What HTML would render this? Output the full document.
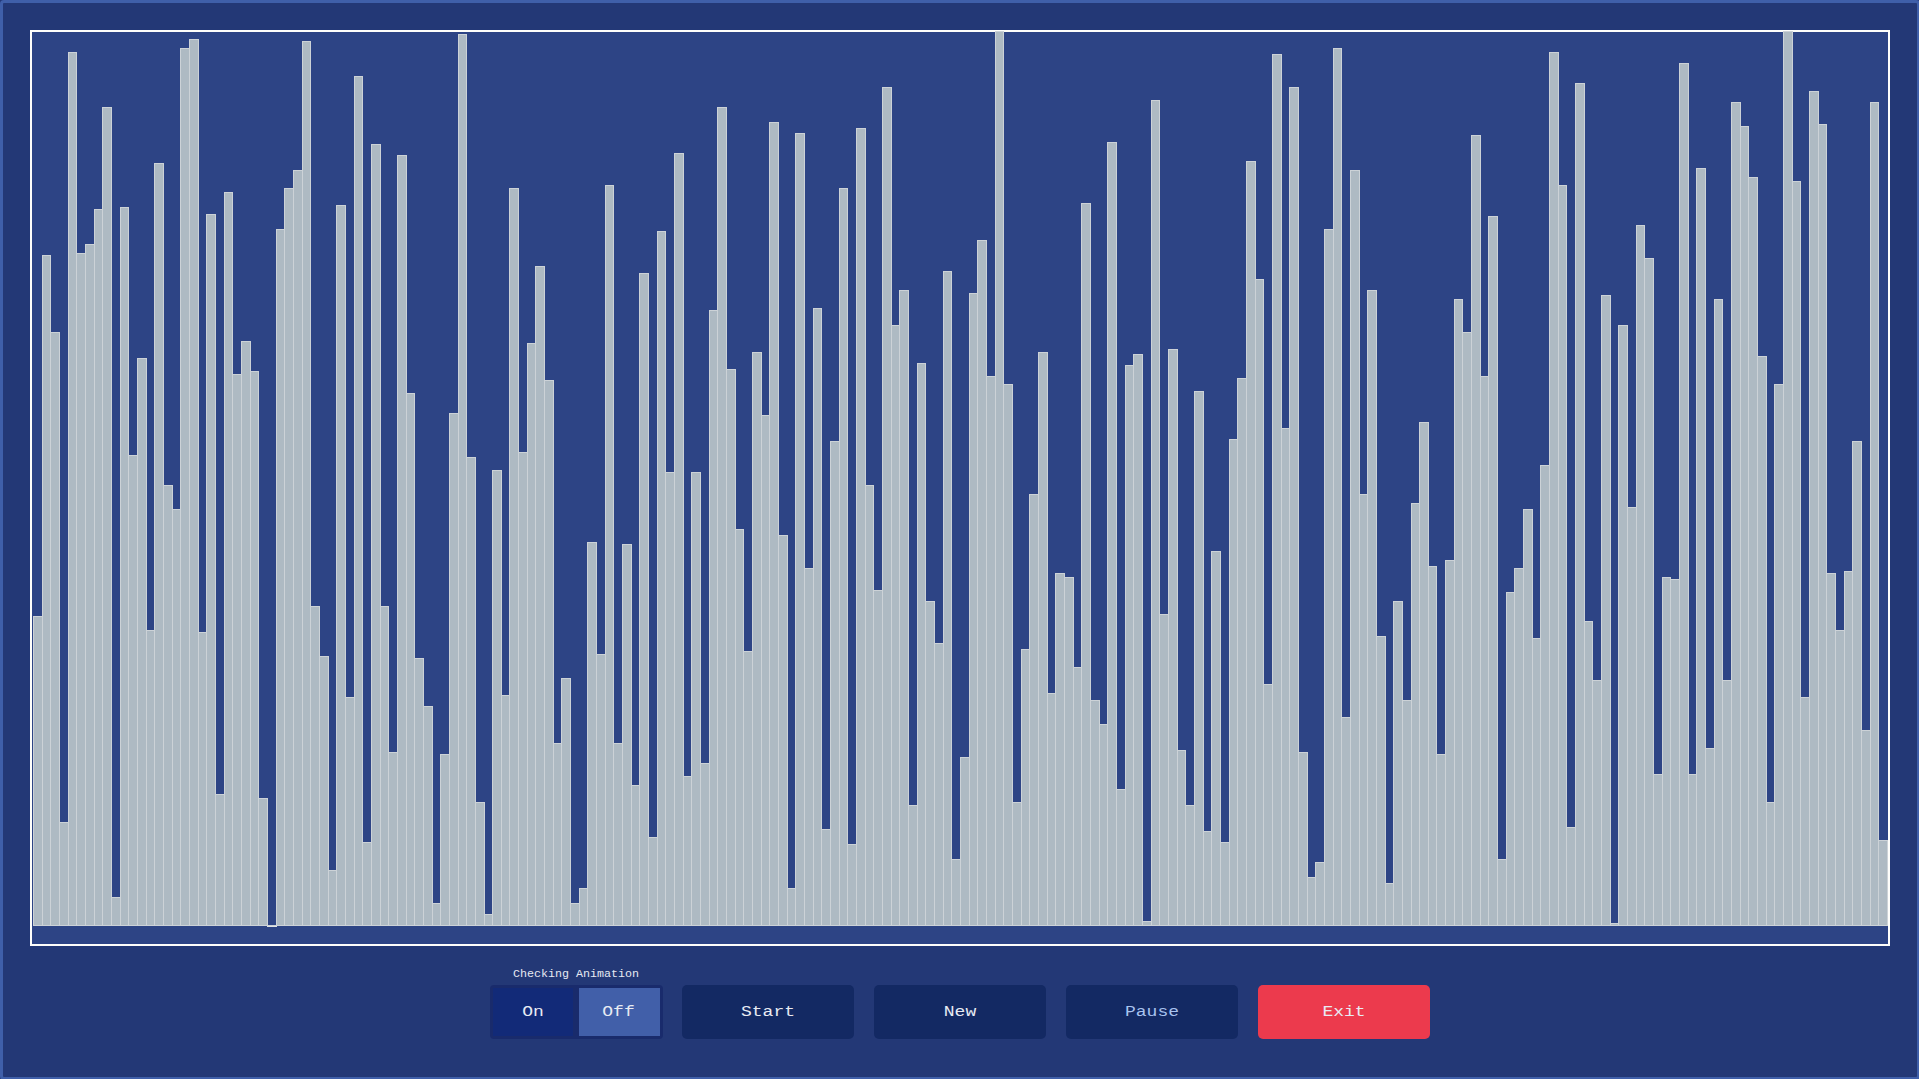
<!DOCTYPE html>
<html><head><meta charset="utf-8"><title>Sorting Visualizer</title>
<style>
html,body{margin:0;padding:0;overflow:hidden;}
body{width:1919px;height:1079px;overflow:hidden;background:#233876;font-family:"Liberation Mono",monospace;position:relative;}
#frame{position:absolute;left:0;top:0;width:1920px;height:1080px;box-sizing:border-box;border:3px solid #3f5fa9;border-radius:4px;background:#233876;}
#chart{position:absolute;left:30px;top:30px;width:1860px;height:916px;box-sizing:border-box;border:2px solid #fefefb;background:#2d4485;}
#bars{position:absolute;left:0;top:0;}
#bars i{position:absolute;display:block;bottom:-926px;box-sizing:border-box;border:1px solid #ccd2d7;background:#aebac3;}
#bars i.z{top:925px;height:2px;bottom:auto;border:none;background:linear-gradient(#ccd2d7 50%,#dfe3e4 50%);}
.lbl{position:absolute;left:490px;width:172px;top:967px;height:14px;line-height:14px;text-align:center;color:#e6e9f2;font-size:11.67px;white-space:nowrap;}
.btn{position:absolute;top:985px;width:172px;height:54px;line-height:52px;box-sizing:border-box;border-radius:5px;background:#132963;color:#e8ebf3;font-size:18px;text-align:center;}
.t2{display:inline-block;line-height:normal;transform:scaleY(0.93);transform-origin:50% 73.5%;}
.t{display:inline-block;line-height:normal;transform:scaleY(0.86);transform-origin:50% 73.5%;}
#tog{position:absolute;left:490px;top:985px;width:173px;height:54px;box-sizing:border-box;border-radius:4px;background:#192b6c;}
#on,#off{position:absolute;top:3px;height:48px;line-height:46px;color:#e8ebf3;font-size:18px;text-align:center;}
#on{left:3px;width:80px;background:#122a78;}
#off{left:89px;width:79px;padding-right:2px;background:#415fa9;}
#wrap{position:absolute;left:0;top:0;width:1919px;height:1079px;overflow:hidden;}
</style></head><body>
<div id="wrap">
<div id="frame"></div>
<div id="chart"></div>
<div id="bars"><i style="left:33px;width:10px;top:616px"></i><i style="left:42px;width:9px;top:255px"></i><i style="left:50px;width:10px;top:332px"></i><i style="left:59px;width:10px;top:822px"></i><i style="left:68px;width:9px;top:52px"></i><i style="left:76px;width:10px;top:253px"></i><i style="left:85px;width:10px;top:244px"></i><i style="left:94px;width:9px;top:209px"></i><i style="left:102px;width:10px;top:107px"></i><i style="left:111px;width:10px;top:897px"></i><i style="left:120px;width:9px;top:207px"></i><i style="left:128px;width:10px;top:455px"></i><i style="left:137px;width:10px;top:358px"></i><i style="left:146px;width:9px;top:630px"></i><i style="left:154px;width:10px;top:163px"></i><i style="left:163px;width:10px;top:485px"></i><i style="left:172px;width:9px;top:509px"></i><i style="left:180px;width:10px;top:48px"></i><i style="left:189px;width:10px;top:39px"></i><i style="left:198px;width:9px;top:632px"></i><i style="left:206px;width:10px;top:214px"></i><i style="left:215px;width:10px;top:794px"></i><i style="left:224px;width:9px;top:192px"></i><i style="left:232px;width:10px;top:374px"></i><i style="left:241px;width:10px;top:341px"></i><i style="left:250px;width:9px;top:371px"></i><i style="left:258px;width:10px;top:798px"></i><i class="z" style="left:267px;width:10px"></i><i style="left:276px;width:9px;top:229px"></i><i style="left:284px;width:10px;top:188px"></i><i style="left:293px;width:10px;top:170px"></i><i style="left:302px;width:9px;top:41px"></i><i style="left:310px;width:10px;top:606px"></i><i style="left:319px;width:10px;top:656px"></i><i style="left:328px;width:9px;top:870px"></i><i style="left:336px;width:10px;top:205px"></i><i style="left:345px;width:10px;top:697px"></i><i style="left:354px;width:9px;top:76px"></i><i style="left:362px;width:10px;top:842px"></i><i style="left:371px;width:10px;top:144px"></i><i style="left:380px;width:9px;top:606px"></i><i style="left:388px;width:10px;top:752px"></i><i style="left:397px;width:10px;top:155px"></i><i style="left:406px;width:9px;top:393px"></i><i style="left:414px;width:10px;top:658px"></i><i style="left:423px;width:10px;top:706px"></i><i style="left:432px;width:9px;top:903px"></i><i style="left:440px;width:10px;top:754px"></i><i style="left:449px;width:10px;top:413px"></i><i style="left:458px;width:9px;top:34px"></i><i style="left:466px;width:10px;top:457px"></i><i style="left:475px;width:10px;top:802px"></i><i style="left:484px;width:9px;top:914px"></i><i style="left:492px;width:10px;top:470px"></i><i style="left:501px;width:9px;top:695px"></i><i style="left:509px;width:10px;top:188px"></i><i style="left:518px;width:10px;top:452px"></i><i style="left:527px;width:9px;top:343px"></i><i style="left:535px;width:10px;top:266px"></i><i style="left:544px;width:10px;top:380px"></i><i style="left:553px;width:9px;top:743px"></i><i style="left:561px;width:10px;top:678px"></i><i style="left:570px;width:10px;top:903px"></i><i style="left:579px;width:9px;top:888px"></i><i style="left:587px;width:10px;top:542px"></i><i style="left:596px;width:10px;top:654px"></i><i style="left:605px;width:9px;top:185px"></i><i style="left:613px;width:10px;top:743px"></i><i style="left:622px;width:10px;top:544px"></i><i style="left:631px;width:9px;top:785px"></i><i style="left:639px;width:10px;top:273px"></i><i style="left:648px;width:10px;top:837px"></i><i style="left:657px;width:9px;top:231px"></i><i style="left:665px;width:10px;top:472px"></i><i style="left:674px;width:10px;top:153px"></i><i style="left:683px;width:9px;top:776px"></i><i style="left:691px;width:10px;top:472px"></i><i style="left:700px;width:10px;top:763px"></i><i style="left:709px;width:9px;top:310px"></i><i style="left:717px;width:10px;top:107px"></i><i style="left:726px;width:10px;top:369px"></i><i style="left:735px;width:9px;top:529px"></i><i style="left:743px;width:10px;top:651px"></i><i style="left:752px;width:10px;top:352px"></i><i style="left:761px;width:9px;top:415px"></i><i style="left:769px;width:10px;top:122px"></i><i style="left:778px;width:10px;top:535px"></i><i style="left:787px;width:9px;top:888px"></i><i style="left:795px;width:10px;top:133px"></i><i style="left:804px;width:10px;top:568px"></i><i style="left:813px;width:9px;top:308px"></i><i style="left:821px;width:10px;top:829px"></i><i style="left:830px;width:10px;top:441px"></i><i style="left:839px;width:9px;top:188px"></i><i style="left:847px;width:10px;top:844px"></i><i style="left:856px;width:10px;top:128px"></i><i style="left:865px;width:9px;top:485px"></i><i style="left:873px;width:10px;top:590px"></i><i style="left:882px;width:10px;top:87px"></i><i style="left:891px;width:9px;top:325px"></i><i style="left:899px;width:10px;top:290px"></i><i style="left:908px;width:10px;top:805px"></i><i style="left:917px;width:9px;top:363px"></i><i style="left:925px;width:10px;top:601px"></i><i style="left:934px;width:10px;top:643px"></i><i style="left:943px;width:9px;top:271px"></i><i style="left:951px;width:10px;top:859px"></i><i style="left:960px;width:10px;top:757px"></i><i style="left:969px;width:9px;top:293px"></i><i style="left:977px;width:10px;top:240px"></i><i style="left:986px;width:10px;top:376px"></i><i style="left:995px;width:9px;top:31px"></i><i style="left:1003px;width:10px;top:384px"></i><i style="left:1012px;width:10px;top:802px"></i><i style="left:1021px;width:9px;top:649px"></i><i style="left:1029px;width:10px;top:494px"></i><i style="left:1038px;width:10px;top:352px"></i><i style="left:1047px;width:9px;top:693px"></i><i style="left:1055px;width:10px;top:573px"></i><i style="left:1064px;width:10px;top:577px"></i><i style="left:1073px;width:9px;top:667px"></i><i style="left:1081px;width:10px;top:203px"></i><i style="left:1090px;width:10px;top:700px"></i><i style="left:1099px;width:9px;top:724px"></i><i style="left:1107px;width:10px;top:142px"></i><i style="left:1116px;width:10px;top:789px"></i><i style="left:1125px;width:9px;top:365px"></i><i style="left:1133px;width:10px;top:354px"></i><i style="left:1142px;width:10px;top:921px"></i><i style="left:1151px;width:9px;top:100px"></i><i style="left:1159px;width:10px;top:614px"></i><i style="left:1168px;width:10px;top:349px"></i><i style="left:1177px;width:9px;top:750px"></i><i style="left:1185px;width:10px;top:805px"></i><i style="left:1194px;width:10px;top:391px"></i><i style="left:1203px;width:9px;top:831px"></i><i style="left:1211px;width:10px;top:551px"></i><i style="left:1220px;width:10px;top:842px"></i><i style="left:1229px;width:9px;top:439px"></i><i style="left:1237px;width:10px;top:378px"></i><i style="left:1246px;width:10px;top:161px"></i><i style="left:1255px;width:9px;top:279px"></i><i style="left:1263px;width:10px;top:684px"></i><i style="left:1272px;width:10px;top:54px"></i><i style="left:1281px;width:9px;top:428px"></i><i style="left:1289px;width:10px;top:87px"></i><i style="left:1298px;width:10px;top:752px"></i><i style="left:1307px;width:9px;top:877px"></i><i style="left:1315px;width:10px;top:862px"></i><i style="left:1324px;width:10px;top:229px"></i><i style="left:1333px;width:9px;top:48px"></i><i style="left:1341px;width:10px;top:717px"></i><i style="left:1350px;width:10px;top:170px"></i><i style="left:1359px;width:9px;top:494px"></i><i style="left:1367px;width:10px;top:290px"></i><i style="left:1376px;width:10px;top:636px"></i><i style="left:1385px;width:9px;top:883px"></i><i style="left:1393px;width:10px;top:601px"></i><i style="left:1402px;width:10px;top:700px"></i><i style="left:1411px;width:9px;top:503px"></i><i style="left:1419px;width:10px;top:422px"></i><i style="left:1428px;width:9px;top:566px"></i><i style="left:1436px;width:10px;top:754px"></i><i style="left:1445px;width:10px;top:560px"></i><i style="left:1454px;width:9px;top:299px"></i><i style="left:1462px;width:10px;top:332px"></i><i style="left:1471px;width:10px;top:135px"></i><i style="left:1480px;width:9px;top:376px"></i><i style="left:1488px;width:10px;top:216px"></i><i style="left:1497px;width:10px;top:859px"></i><i style="left:1506px;width:9px;top:592px"></i><i style="left:1514px;width:10px;top:568px"></i><i style="left:1523px;width:10px;top:509px"></i><i style="left:1532px;width:9px;top:638px"></i><i style="left:1540px;width:10px;top:465px"></i><i style="left:1549px;width:10px;top:52px"></i><i style="left:1558px;width:9px;top:185px"></i><i style="left:1566px;width:10px;top:827px"></i><i style="left:1575px;width:10px;top:83px"></i><i style="left:1584px;width:9px;top:621px"></i><i style="left:1592px;width:10px;top:680px"></i><i style="left:1601px;width:10px;top:295px"></i><i style="left:1610px;width:9px;top:923px"></i><i style="left:1618px;width:10px;top:325px"></i><i style="left:1627px;width:10px;top:507px"></i><i style="left:1636px;width:9px;top:225px"></i><i style="left:1644px;width:10px;top:258px"></i><i style="left:1653px;width:10px;top:774px"></i><i style="left:1662px;width:9px;top:577px"></i><i style="left:1670px;width:10px;top:579px"></i><i style="left:1679px;width:10px;top:63px"></i><i style="left:1688px;width:9px;top:774px"></i><i style="left:1696px;width:10px;top:168px"></i><i style="left:1705px;width:10px;top:748px"></i><i style="left:1714px;width:9px;top:299px"></i><i style="left:1722px;width:10px;top:680px"></i><i style="left:1731px;width:10px;top:102px"></i><i style="left:1740px;width:9px;top:126px"></i><i style="left:1748px;width:10px;top:177px"></i><i style="left:1757px;width:10px;top:356px"></i><i style="left:1766px;width:9px;top:802px"></i><i style="left:1774px;width:10px;top:384px"></i><i style="left:1783px;width:10px;top:31px"></i><i style="left:1792px;width:9px;top:181px"></i><i style="left:1800px;width:10px;top:697px"></i><i style="left:1809px;width:10px;top:91px"></i><i style="left:1818px;width:9px;top:124px"></i><i style="left:1826px;width:10px;top:573px"></i><i style="left:1835px;width:10px;top:630px"></i><i style="left:1844px;width:9px;top:571px"></i><i style="left:1852px;width:10px;top:441px"></i><i style="left:1861px;width:10px;top:730px"></i><i style="left:1870px;width:9px;top:102px"></i><i style="left:1878px;width:10px;top:840px"></i></div>
<div class="lbl"><span class="t2">Checking Animation</span></div>
<div id="tog"><div id="on"><span class="t">On</span></div><div id="off"><span class="t">Off</span></div></div>
<div class="btn" style="left:682px"><span class="t">Start</span></div>
<div class="btn" style="left:874px"><span class="t">New</span></div>
<div class="btn" style="left:1066px;color:#a8c3ef"><span class="t">Pause</span></div>
<div class="btn" style="left:1258px;background:#ec3a4d"><span class="t">Exit</span></div>
</div>
</body></html>
